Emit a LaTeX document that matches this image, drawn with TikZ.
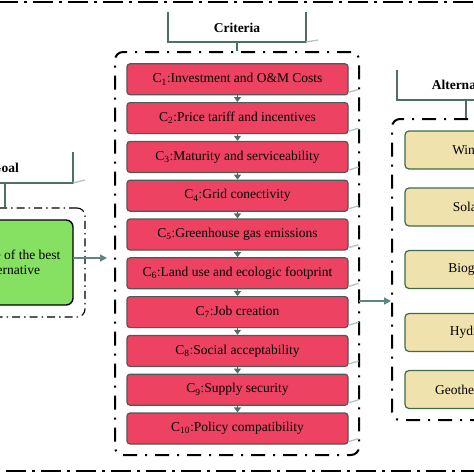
\documentclass[tikz,border=0pt]{standalone}
\usepackage{fontspec}
\setmainfont{Liberation Serif}
\usepackage{tikz}
\usetikzlibrary{calc, math, arrows.meta}

\definecolor{critfill}{HTML}{EE4262}
\definecolor{critline}{HTML}{4F5957}
\definecolor{goalfill}{HTML}{86E062}
\definecolor{altfill}{HTML}{F0E2AC}
\definecolor{altline}{HTML}{3F6B4A}
\definecolor{bracecol}{HTML}{4E6F65}
\definecolor{flowcol}{HTML}{5E8681}
\definecolor{tailcol}{HTML}{AEC4C2}

\tikzset{
    brace/.style={draw=bracecol, line width=1.3pt},
    tail/.style={draw=tailcol, line width=1.3pt},
    flow/.style={draw=flowcol, line width=1.4pt, -{Triangle[width=7pt, length=7pt]}},
    stepline/.style={draw=bracecol, line width=1.4pt, -{Triangle[width=7pt, length=5pt]}},
    frame/.style={draw=black, line width=2pt, rounded corners=8pt, inner sep=0pt,
        dash pattern=on 14pt off 8pt on 2pt off 8pt},
    critbox/.style={draw=critline, fill=critfill, line width=1.2pt, rounded corners=3pt,
        inner sep=0pt, minimum width=221pt, minimum height=31pt},
    altbox/.style={draw=altline, fill=altfill, line width=1.2pt, rounded corners=4pt,
        inner sep=0pt, minimum width=124pt, minimum height=38pt},
    goalbox/.style={draw=black, fill=goalfill, line width=1.4pt, rounded corners=7pt,
        inner sep=0pt, minimum width=123pt, minimum height=85pt, align=center},
    header/.style={font=\fontsize{13.5}{15.5}\selectfont\bfseries},
}

\begin{document}
\begin{tikzpicture}[x=1pt, y=-1pt, font=\fontsize{13.5}{15.5}\selectfont]
    \useasboundingbox (0, 0) rectangle (474, 474);
    \clip (0, 0) rectangle (474, 474);
    % 外框
    \draw [line width=2.6pt, dash pattern=on 20pt off 6pt on 3pt off 6pt] (-50, 2) rectangle (530, 471);

    % 目标
    \node [frame, line width=1.1pt, dash pattern=on 8pt off 4pt on 1.5pt off 4pt,
        minimum width=147pt, minimum height=109pt] (goalframe) at (11.5, 262.5) {};
    \node [goalbox] (goal) at (11.5, 262.5) {Choice of the best\\alternative};
    \draw [brace] (-63, 152) |- (73, 183) -- (73, 152);
    \draw [tail] (73, 183) -- ++(12, -3);
    \node [header] (goallabel) at (5, 168) {Goal};
    \coordinate (goalstem) at (5, 183);
    \draw [brace] (goalstem) -- (goalstem |- goalframe.north);

    % 准则
    \node [frame, minimum width=244pt, minimum height=403pt] (critframe) at (237, 253.5) {};
    \draw [brace] (168, 12) |- (306, 42) -- (306, 12);
    \draw [tail] (306, 42) -- ++(12, -2);
    \node [header] (critlabel) at (237, 28) {Criteria};
    \coordinate (critstem) at (237, 42);
    \draw [brace] (critstem) -- (critstem |- critframe.north);
    \foreach \i/\txt in {1/Investment and O\&M Costs, 2/Price tariff and incentives,
        3/Maturity and serviceability, 4/Grid conectivity, 5/Greenhouse gas emissions,
        6/Land use and ecologic footprint, 7/Job creation, 8/Social acceptability,
        9/Supply security, 10/Policy compatibility} {
        \node [critbox] (c\i) at (237.5, {79.3 + 38.8*(\i - 1)}) {C\textsubscript{\i}:\txt};
        \draw [tail] ($(c\i.south east) + (0, -3)$) -- ++(10, -3);
    }
    \foreach \i [evaluate=\i as \j using int(\i + 1)] in {1, ..., 9} {
        \draw [stepline] (c\i.south) -- (c\j.north);
    }

    % 备选方案
    \node [frame, minimum width=148pt, minimum height=301pt] (altframe) at (466, 269.5) {};
    \draw [brace] (397, 70) |- (535, 100) -- (535, 70);
    \node [header] (altlabel) at (467, 85) {Alternatives};
    \coordinate (altstem) at (466, 100);
    \draw [brace] (altstem) -- (altstem |- altframe.north);
    \foreach \name/\y in {Wind/150, Solar/207, Biogas/269.5, Hydro/332.5, Geothermal/389.5} {
        \node [altbox] (a-\name) at (467, \y) {\name};
    }

    % 连接箭头
    \coordinate (goalout) at (73, 258);
    \draw [flow] (goalout) -- ($(critframe.west |- goalout) + (-7, 0)$);
    \coordinate (critout) at (359, 301);
    \draw [flow] (critout) -- (altframe.west |- critout);
\end{tikzpicture}
\end{document}
